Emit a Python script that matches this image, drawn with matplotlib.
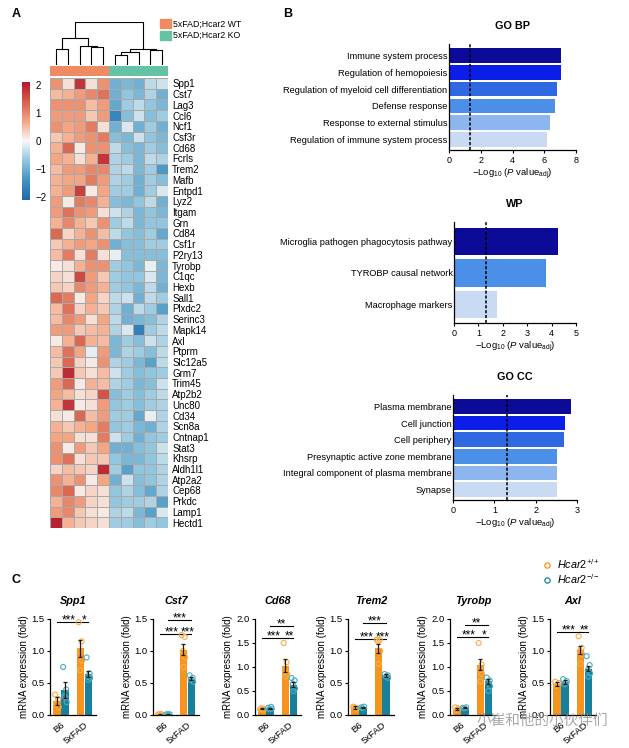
import numpy as np
import matplotlib
matplotlib.use('Agg')
import matplotlib.pyplot as plt
from matplotlib.colors import LinearSegmentedColormap
from matplotlib.lines import Line2D
from matplotlib.patches import Patch

plt.rcParams['font.family'] = ['Liberation Sans', 'DejaVu Sans']
plt.rcParams['mathtext.fontset'] = 'custom'
plt.rcParams['mathtext.rm'] = 'Liberation Sans'
plt.rcParams['mathtext.it'] = 'Liberation Sans:italic'
plt.rcParams['mathtext.bf'] = 'Liberation Sans:bold'
plt.rcParams['axes.linewidth'] = 0.9

# ---------------- data: panel A heatmap ----------------
genes = ['Spp1', 'Cst7', 'Lag3', 'Ccl6', 'Ncf1', 'Csf3r', 'Cd68', 'Fcrls', 'Trem2', 'Mafb',
         'Entpd1', 'Lyz2', 'Itgam', 'Grn', 'Cd84', 'Csf1r', 'P2ry13', 'Tyrobp', 'C1qc', 'Hexb',
         'Sall1', 'Plxdc2', 'Serinc3', 'Mapk14', 'Axl', 'Ptprm', 'Slc12a5', 'Grm7', 'Trim45', 'Atp2b2',
         'Unc80', 'Cd34', 'Scn8a', 'Cntnap1', 'Stat3', 'Khsrp', 'Aldh1l1', 'Atp2a2', 'Cep68', 'Prkdc',
         'Lamp1', 'Hectd1']
# 5 WT columns then 5 KO columns (z-scores)
hm_values = [
    [0.9, 0.2, 1.8, 0.2, 0.9, -1.0, -0.9, -1.0, -0.4, -0.3],
    [0.5, 0.6, 0.8, 1.0, 1.2, -1.0, -0.7, -0.9, -0.5, -1.0],
    [0.9, 0.9, 0.9, 0.5, 0.8, -1.1, -0.6, -0.4, -0.7, -0.9],
    [0.8, 0.8, 0.8, 0.4, 0.8, -1.6, -0.8, -0.3, -0.8, -0.6],
    [0.9, 0.7, 0.8, 1.1, 0.2, -1.0, -0.2, -1.0, -0.6, -1.0],
    [0.4, 0.6, 0.8, 0.9, 1.1, -0.8, -0.9, -0.3, -0.7, -0.9],
    [0.6, 1.3, 0.1, 0.9, 0.9, -0.4, -0.8, -0.9, -0.6, -0.8],
    [0.7, 0.6, 0.2, 0.6, 1.8, -0.5, -0.6, -0.9, -0.4, -0.5],
    [0.5, 0.8, 0.8, 1.0, 1.0, -0.5, -0.4, -0.9, -0.6, -1.3],
    [0.6, 0.7, 0.7, 1.1, 0.8, -0.5, -0.6, -1.0, -0.6, -0.8],
    [0.6, 0.8, 1.7, 0.1, 0.7, -0.6, -0.6, -1.0, -0.6, -0.2],
    [0.8, 0.1, 1.1, 1.0, 0.6, -0.8, -0.9, -0.7, -0.4, -1.0],
    [0.8, 1.2, 0.9, 0.8, 0.2, -0.3, -0.5, -0.9, -0.7, -0.9],
    [0.6, 1.0, 0.6, 0.4, 0.9, -0.6, -0.4, -0.9, -0.7, -0.7],
    [1.3, 0.3, 0.6, 0.9, 0.5, -0.4, -0.7, -0.8, -0.6, -1.1],
    [0.4, 0.6, 0.8, 0.7, 0.9, -1.0, -0.8, -0.8, -0.6, -0.6],
    [0.5, 1.1, 0.2, 1.1, 0.2, -0.1, -0.8, -0.8, -0.8, -0.8],
    [0.1, 0.2, 0.6, 0.9, 0.9, -0.6, -0.7, -0.9, -0.1, -0.9],
    [0.3, 0.2, 1.6, 0.8, 0.4, -0.6, -0.7, -0.7, -0.2, -0.9],
    [0.4, 0.3, 1.0, 0.8, 0.6, -0.6, -0.7, -0.9, -0.4, -1.0],
    [1.3, 1.1, 0.1, 0.7, 0.3, -0.4, -0.3, -1.0, -0.4, -0.6],
    [0.5, 1.2, 0.3, 0.6, 0.4, -0.5, -1.0, -0.4, -0.6, -1.2],
    [0.5, 1.0, 0.8, 0.2, 0.7, -0.4, -1.0, -0.9, -0.8, -0.5],
    [0.8, 0.8, 0.4, 0.5, 0.6, -0.5, -0.2, -1.7, -0.6, -0.4],
    [0.1, 0.6, 1.3, 0.6, 0.5, -0.9, -0.6, -0.8, -0.3, -0.5],
    [0.5, 1.2, 0.7, -0.1, 0.8, -0.9, -0.5, -0.6, -0.8, -0.4],
    [0.4, 1.3, 0.3, 0.1, 0.9, -0.5, -0.6, -0.9, -1.2, -0.4],
    [0.4, 1.9, 0.4, 0.2, 0.5, -0.3, -0.6, -0.8, -0.7, -0.6],
    [0.8, 1.3, 0.1, 0.6, 0.5, -0.5, -0.6, -0.9, -0.8, -0.3],
    [0.7, 0.5, 0.2, 0.3, 1.5, -0.8, -0.6, -0.8, -0.6, -0.4],
    [0.6, 1.8, 0.1, 0.2, 0.8, -0.7, -0.6, -0.8, -0.6, -0.5],
    [0.2, 0.1, 1.3, 0.5, 0.8, -0.6, -0.6, -1.1, -0.1, -0.5],
    [0.6, 0.4, 0.6, 0.7, 1.1, -0.7, -0.6, -0.9, -1.0, -0.5],
    [0.7, 0.7, 0.2, 0.2, 1.1, -0.3, -0.6, -1.0, -0.7, -0.6],
    [0.9, 0.1, 0.8, 0.4, 0.7, -1.0, -1.0, -0.8, -0.7, -0.3],
    [0.9, 1.2, 0.2, 0.4, 0.4, -0.7, -0.9, -0.9, -0.7, -0.4],
    [0.3, 0.5, 0.4, 0.3, 1.9, -0.6, -1.2, -0.7, -0.7, -0.5],
    [0.9, 0.6, 0.9, 0.1, 0.7, -1.0, -0.3, -0.8, -0.7, -0.5],
    [1.0, 1.3, 0.1, 0.3, 0.2, -0.7, -0.5, -0.8, -1.1, -0.5],
    [0.6, 1.0, 0.8, 0.3, 0.2, -0.7, -0.6, -0.6, -0.5, -1.2],
    [0.8, 1.0, 0.4, 0.2, 0.1, -0.5, -0.4, -0.9, -1.2, -0.2],
    [2.0, 0.6, 0.4, 0.3, 0.2, -0.6, -0.6, -0.8, -0.6, -0.7],
]
col_groups = ['WT'] * 5 + ['KO'] * 5
group_names = ['5xFAD;Hcar2 WT', '5xFAD;Hcar2 KO']
# column dendrogram: (child a, child b, height), scipy-like ids (leaves 0-9)
col_linkage = [(0, 1, 0.38), (3, 4, 0.43), (2, 11, 0.45), (10, 12, 0.63),
               (5, 6, 0.24), (14, 7, 0.30), (8, 9, 0.35), (15, 16, 0.38), (13, 17, 1.0)]

# ---------------- data: panel B ----------------
bp_terms = ['Immune system process', 'Regulation of hemopoiesis',
            'Regulation of myeloid cell differentiation', 'Defense response',
            'Response to external stimulus', 'Regulation of immune system process']
bp_vals = [7.06, 7.05, 6.80, 6.65, 6.36, 6.15]
wp_terms = ['Microglia pathogen phagocytosis pathway', 'TYROBP causal network', 'Macrophage markers']
wp_vals = [4.25, 3.76, 1.78]
cc_terms = ['Plasma membrane', 'Cell junction', 'Cell periphery',
            'Presynaptic active zone membrane', 'Integral component of plasma membrane', 'Synapse']
cc_vals = [2.85, 2.71, 2.69, 2.52, 2.52, 2.52]
p_cut = 1.301

# ---------------- data: panel C ----------------
c_genes = ['Spp1', 'Cst7', 'Cd68', 'Trem2', 'Tyrobp', 'Axl']
c_groups = ['B6', '5xFAD']
mean_b6_wt = [0.22, 0.01, 0.13, 0.12, 0.13, 0.49]
sem_b6_wt = [0.06, 0.004, 0.01, 0.02, 0.02, 0.03]
mean_b6_ko = [0.39, 0.01, 0.14, 0.12, 0.15, 0.52]
sem_b6_ko = [0.12, 0.004, 0.01, 0.01, 0.01, 0.03]
mean_fad_wt = [1.04, 1.02, 1.03, 1.04, 1.05, 1.02]
sem_fad_wt = [0.13, 0.09, 0.13, 0.07, 0.12, 0.06]
mean_fad_ko = [0.64, 0.57, 0.63, 0.62, 0.70, 0.72]
sem_fad_ko = [0.05, 0.03, 0.05, 0.02, 0.05, 0.04]
pts_b6_wt = [[0.32, 0.25, 0.18, 0.12], [0.01, 0.01, 0.01, 0.01], [0.12, 0.13, 0.14, 0.11],
             [0.13, 0.11, 0.12, 0.10], [0.16, 0.12, 0.10, 0.14], [0.52, 0.47, 0.45, 0.50]]
pts_b6_ko = [[0.75, 0.40, 0.30, 0.20, 0.28], [0.01, 0.01, 0.01, 0.01], [0.15, 0.17, 0.12, 0.13],
             [0.12, 0.13, 0.11], [0.15, 0.16, 0.14], [0.56, 0.50, 0.48, 0.53]]
pts_fad_wt = [[1.45, 1.15, 1.00, 0.85, 0.70], [1.25, 1.22, 1.00, 0.90, 0.75], [1.50, 1.10, 0.92, 0.85, 0.80],
              [1.18, 1.17, 1.15, 1.00, 0.80], [1.50, 1.05, 0.95, 0.85, 0.70], [1.23, 1.05, 1.00, 0.95, 0.80]]
pts_fad_ko = [[0.90, 0.65, 0.60, 0.58, 0.55], [0.62, 0.58, 0.55, 0.52], [0.77, 0.72, 0.65, 0.55, 0.50],
              [0.64, 0.62, 0.60, 0.58], [0.78, 0.72, 0.68, 0.60, 0.50], [0.92, 0.78, 0.70, 0.65, 0.60]]
c_ymax = [1.5, 1.5, 2.0, 1.5, 2.0, 1.5]
# significance: (bar i, bar j, height, label); bars 0=B6 WT, 1=B6 KO, 2=5xFAD WT, 3=5xFAD KO
c_sig = [
    [(0, 2, 1.45, '***'), (2, 3, 1.45, '*')],
    [(0, 2, 1.26, '***'), (2, 3, 1.26, '***'), (1, 3, 1.48, '***')],
    [(0, 2, 1.60, '***'), (2, 3, 1.60, '**'), (1, 3, 1.86, '**')],
    [(0, 2, 1.19, '***'), (2, 3, 1.19, '***'), (1, 3, 1.44, '***')],
    [(0, 2, 1.63, '***'), (2, 3, 1.63, '*'), (1, 3, 1.87, '**')],
    [(0, 2, 1.30, '***'), (2, 3, 1.30, '**')],
]

W, H = 629, 748
fig = plt.figure(figsize=(W / 100, H / 100), dpi=100)


def box(l, t, w, h):
    return [l / W, 1 - (t + h) / H, w / W, h / H]


# ================= Panel A =================
cmap = LinearSegmentedColormap.from_list(
    'rb', ['#2166ac', '#4393c3', '#92c5de', '#f7f7f7', '#f4a582', '#d6604d', '#b2182b'])
ax_hm = fig.add_axes(box(50, 78, 118, 450))
data = np.array(hm_values)
mesh = ax_hm.pcolormesh(data, cmap=cmap, vmin=-2.1, vmax=2.1, edgecolors='#a9a9a9', linewidth=0.5)
ax_hm.set_xlim(0, data.shape[1])
ax_hm.set_ylim(data.shape[0], 0)
ax_hm.yaxis.tick_right()
ax_hm.set_yticks(np.arange(len(genes)) + 0.5)
ax_hm.set_yticklabels(genes, fontsize=7)
ax_hm.tick_params(axis='y', length=0, pad=3)
ax_hm.set_xticks([])
for s in ax_hm.spines.values():
    s.set_visible(False)

grp_colors = {'WT': '#ef8a62', 'KO': '#66c2a5'}
ax_an = fig.add_axes(box(50, 66, 118, 10))
for i, g in enumerate(col_groups):
    ax_an.bar(i + 0.5, 1, width=1, color=grp_colors[g])
ax_an.set_xlim(0, len(col_groups))
ax_an.set_ylim(0, 1)
ax_an.axis('off')

ax_dg = fig.add_axes(box(50, 22, 118, 43))
xpos = {i: i + 0.5 for i in range(len(col_groups))}
hgt = {i: 0.0 for i in range(len(col_groups))}
for k, (a, b, h) in enumerate(col_linkage):
    node = len(col_groups) + k
    ax_dg.plot([xpos[a], xpos[a], xpos[b], xpos[b]], [hgt[a], h, h, hgt[b]], color='black', lw=0.8)
    xpos[node] = (xpos[a] + xpos[b]) / 2
    hgt[node] = h
ax_dg.set_xlim(0, len(col_groups))
ax_dg.set_ylim(0, 1.01)
ax_dg.axis('off')

cax = fig.add_axes(box(22, 82, 8, 118))
cb = fig.colorbar(mesh, cax=cax, ticks=[-2, -1, 0, 1, 2])
cb.outline.set_visible(False)
cax.tick_params(length=0, labelsize=7, pad=4)

fig.legend(handles=[Patch(color=grp_colors['WT']), Patch(color=grp_colors['KO'])],
           labels=group_names, loc='upper left', bbox_to_anchor=(160 / W, 1 - 19 / H),
           frameon=False, fontsize=6.3, handlelength=1.2, handleheight=1.2,
           handletextpad=0.3, labelspacing=0.25, borderpad=0, borderaxespad=0)

# ================= Panel B =================
bp_colors = ['#0b0b98', '#0a1ee8', '#3068e2', '#4c8fe8', '#8db6ef', '#c9daf3']
wp_colors = ['#0b0b98', '#4c8fe8', '#c9daf3']
xlab = '\u2212Log$_{10}$ ($\\mathit{P}$ value$_{\\mathrm{adj}}$)'


def go_panel(rect, terms, vals, colors, xmax, title, ylim):
    ax = fig.add_axes(box(*rect))
    y = np.arange(len(terms))
    ax.barh(y, vals, height=0.88, color=colors)
    ax.axvline(p_cut, color='black', ls=(0, (2, 1.2)), lw=1.1)
    ax.set_ylim(*ylim)
    ax.set_xlim(0, xmax)
    ax.set_yticks(y)
    ax.set_yticklabels(terms, fontsize=6.7)
    ax.tick_params(axis='y', length=0, pad=1)
    ax.set_xticks(np.arange(0, xmax + 1, 2 if xmax > 5 else 1))
    ax.tick_params(axis='x', labelsize=6.5, length=2.5, pad=1.5)
    for s in ['top', 'right']:
        ax.spines[s].set_visible(False)
    ax.set_xlabel(xlab, fontsize=6.8, labelpad=2)
    ax.set_title(title, fontsize=7.8, fontweight='bold', pad=11)
    return ax


go_panel((449, 44, 127, 106), bp_terms, bp_vals, bp_colors, 8, 'GO BP', (5.62, -0.68))
go_panel((454, 222, 122, 101), wp_terms, wp_vals, wp_colors, 5, 'WP', (2.59, -0.62))
go_panel((453, 395, 124, 105), cc_terms, cc_vals, bp_colors, 3, 'GO CC', (5.62, -0.68))

# ================= Panel C =================
orange, teal = '#f7941d', '#18809a'
pt_orange, pt_teal = '#f6ae4a', '#45aec4'
bar_x = [-0.17, 0.17, 0.83, 1.17]
jit = [-0.07, 0.06, -0.02, 0.08, 0.01]
c_lefts = [50, 153, 255, 348, 450, 550]
for k, g in enumerate(c_genes):
    ax = fig.add_axes(box(c_lefts[k], 619, 46, 96))
    means = [mean_b6_wt[k], mean_b6_ko[k], mean_fad_wt[k], mean_fad_ko[k]]
    sems = [sem_b6_wt[k], sem_b6_ko[k], sem_fad_wt[k], sem_fad_ko[k]]
    pts = [pts_b6_wt[k], pts_b6_ko[k], pts_fad_wt[k], pts_fad_ko[k]]
    cols = [orange, teal, orange, teal]
    pcols = [pt_orange, pt_teal, pt_orange, pt_teal]
    ax.bar(bar_x, means, width=0.32, color=cols)
    for i in range(4):
        px = [bar_x[i] + jit[j % len(jit)] for j in range(len(pts[i]))]
        ax.scatter(px, pts[i], s=13, facecolors='none', edgecolors=pcols[i], linewidths=0.8, zorder=3)
    ax.errorbar(bar_x, means, yerr=sems, fmt='none', ecolor='#2a1a10', elinewidth=0.9,
                capsize=1.6, capthick=0.9, zorder=4)
    for (i, j, yy, lab) in c_sig[k]:
        ax.plot([bar_x[i], bar_x[j]], [yy, yy], color='black', lw=0.8, clip_on=False)
        ax.text((bar_x[i] + bar_x[j]) / 2, yy - 0.07 * c_ymax[k] / 1.5, lab, ha='center',
                va='bottom', fontsize=8.5, clip_on=False)
    ax.set_xlim(-0.46, 1.5)
    ax.set_ylim(0, c_ymax[k])
    ax.set_yticks(np.arange(0, c_ymax[k] + 0.01, 0.5))
    ax.set_yticklabels(['%.1f' % v for v in np.arange(0, c_ymax[k] + 0.01, 0.5)])
    ax.set_xticks([0, 1])
    ax.set_xticklabels(c_groups, rotation=40, ha='right', rotation_mode='anchor')
    ax.tick_params(axis='both', labelsize=6.8, length=2.5, pad=1.5)
    ax.tick_params(axis='x', length=0, pad=4)
    for s in ['top', 'right']:
        ax.spines[s].set_visible(False)
    ax.set_ylabel('mRNA expression (fold)', fontsize=7, labelpad=2)
    ax.set_title(g, fontsize=7.8, fontweight='bold', fontstyle='italic', pad=11)

leg_handles = [Line2D([], [], marker='o', ls='', mfc='none', mec=orange, ms=3.8, mew=0.9),
               Line2D([], [], marker='o', ls='', mfc='none', mec=teal, ms=3.8, mew=0.9)]
fig.legend(leg_handles, ['$\\mathit{Hcar2}^{+/+}$', '$\\mathit{Hcar2}^{-/-}$'],
           loc='upper left', bbox_to_anchor=(542 / W, 1 - 557 / H), frameon=False,
           fontsize=7.8, handletextpad=0.4, labelspacing=0.1, borderpad=0, borderaxespad=0,
           handlelength=1.0)

# panel letters
fig.text(12 / W, 1 - 14 / H, 'A', fontsize=9, fontweight='bold', va='center')
fig.text(283 / W, 1 - 14 / H, 'B', fontsize=9, fontweight='bold', va='center')
fig.text(12 / W, 1 - 580 / H, 'C', fontsize=9, fontweight='bold', va='center')

# watermark
fig.text(477 / W, 1 - 721 / H, '小崔和他的小伙伴们', family=['Noto Sans CJK SC'], fontsize=10.5,
         color='#8a8a8a', alpha=0.75, va='center')

fig.savefig('out.png', dpi=100)
